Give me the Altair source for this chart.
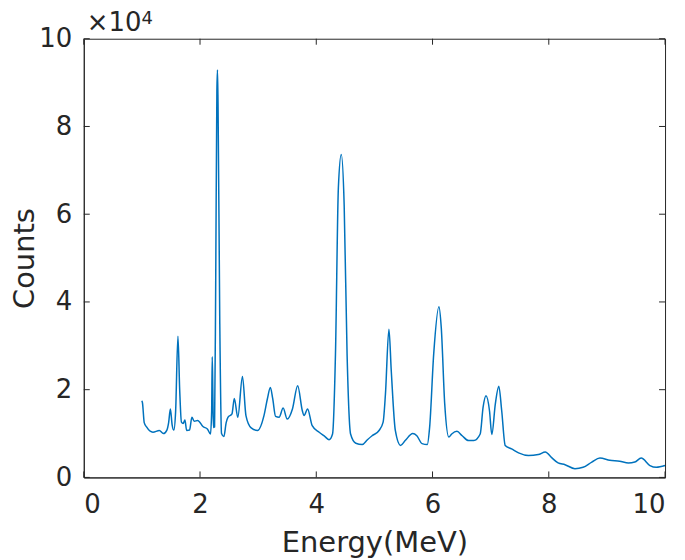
import altair as alt
import pandas as pd

# Spectrum (energy in MeV, counts)
energy = [1.00, 1.01, 1.04, 1.08, 1.19, 1.30, 1.37, 1.43, 1.46, 1.49, 1.52, 1.55, 1.58, 1.62, 1.65,
          1.68, 1.71, 1.74, 1.77, 1.82, 1.86, 1.90, 1.96, 2.05, 2.13, 2.18, 2.20, 2.21, 2.22, 2.23,
          2.25, 2.27, 2.29, 2.30, 2.31, 2.34, 2.37, 2.41, 2.45, 2.48, 2.55, 2.59, 2.65, 2.73, 2.79,
          2.88, 2.99, 3.10, 3.16, 3.21, 3.25, 3.30, 3.36, 3.43, 3.50, 3.59, 3.68, 3.76, 3.79, 3.85,
          3.93, 4.05, 4.15, 4.22, 4.28, 4.33, 4.38, 4.43, 4.48, 4.53, 4.59, 4.68, 4.79, 4.88, 4.96,
          5.08, 5.15, 5.19, 5.25, 5.29, 5.36, 5.45, 5.53, 5.66, 5.73, 5.82, 5.91, 5.95, 6.02, 6.11,
          6.15, 6.21, 6.28, 6.33, 6.42, 6.51, 6.62, 6.71, 6.82, 6.87, 6.92, 6.98, 7.02, 7.08, 7.14,
          7.19, 7.25, 7.36, 7.48, 7.65, 7.82, 7.94, 8.05, 8.16, 8.28, 8.45, 8.59, 8.74, 8.88, 9.05,
          9.22, 9.37, 9.48, 9.59, 9.74, 9.85, 10.00]
counts = [17500, 17000, 12500, 11500, 10300, 10700, 10000, 10800, 12500, 15600, 12000, 10800, 15000, 32200, 20000,
          12600, 12300, 13100, 10700, 10800, 13700, 12800, 13000, 11600, 11000, 9900, 15000, 27500, 20000, 11400,
          11500, 45000, 88000, 92900, 85000, 35000, 10000, 9300, 12500, 13700, 14500, 18000, 13700, 23000, 14100,
          11300, 10700, 14100, 18000, 20500, 18000, 13900, 13700, 15800, 13300, 15600, 20900, 15200, 14100, 15600,
          11800, 10300, 9300, 8600, 9900, 28000, 66000, 73600, 62000, 28000, 9900, 7800, 7500, 8600, 9500,
          10700, 12600, 19000, 33800, 24300, 10700, 7300, 8400, 10000, 9500, 7700, 7500, 11400, 28100, 38900,
          34200, 16700, 9200, 9900, 10500, 9500, 8400, 8400, 9900, 16000, 18600, 15200, 9800, 16700, 20800,
          15200, 7300, 6500, 5600, 5000, 5200, 5800, 4500, 3300, 2900, 2000, 2300, 3500, 4400, 3900,
          3700, 3300, 3500, 4400, 2700, 2300, 2700]

x_ticks = [0, 2, 4, 6, 8, 10]
y_ticks = [0, 20000, 40000, 60000, 80000, 100000]

W, H = 583, 440
AX = "#262626"
FONT = "DejaVu Sans"

df = pd.DataFrame({"energy": energy, "counts": counts})
xt = pd.DataFrame({"energy": x_ticks})
yt = pd.DataFrame({"counts": y_ticks})

xscale = alt.Scale(domain=[0, 10], nice=False, zero=False)
yscale = alt.Scale(domain=[0, 100000], nice=False)

xaxis = alt.Axis(values=x_ticks, title="Energy(MeV)", labelPadding=14,
                 titleX=W / 2, titleY=74, titleAlign="center", titleBaseline="alphabetic")
yaxis = alt.Axis(values=y_ticks, labelExpr="datum.value / 10000", title="Counts",
                 labelPadding=12, titleX=-50, titleY=H / 2, titleAngle=270,
                 titleAlign="center", titleBaseline="alphabetic")

line = alt.Chart(df).mark_line(color="#0072BD", strokeWidth=1.5, clip=True,
                               interpolate="monotone").encode(
    x=alt.X("energy:Q", scale=xscale, axis=xaxis),
    y=alt.Y("counts:Q", scale=yscale, axis=yaxis),
)

tb = alt.Chart(xt).mark_rule(color=AX, strokeWidth=1).encode(
    x=alt.X("energy:Q", scale=xscale, axis=xaxis), y=alt.value(H), y2=alt.value(H - 6))
tt = alt.Chart(xt).mark_rule(color=AX, strokeWidth=1).encode(
    x=alt.X("energy:Q", scale=xscale, axis=xaxis), y=alt.value(0), y2=alt.value(6))
tl = alt.Chart(yt).mark_rule(color=AX, strokeWidth=1).encode(
    y=alt.Y("counts:Q", scale=yscale, axis=yaxis), x=alt.value(0), x2=alt.value(6))
tr = alt.Chart(yt).mark_rule(color=AX, strokeWidth=1).encode(
    y=alt.Y("counts:Q", scale=yscale, axis=yaxis), x=alt.value(W), x2=alt.value(W - 6))

exp_base = alt.Chart(pd.DataFrame({"t": ["×10"]})).mark_text(
    align="left", baseline="alphabetic", font=FONT, fontSize=26, color=AX).encode(
    x=alt.value(3), y=alt.value(-8), text="t:N")
exp_pow = alt.Chart(pd.DataFrame({"t": ["4"]})).mark_text(
    align="left", baseline="alphabetic", font=FONT, fontSize=18, color=AX).encode(
    x=alt.value(58), y=alt.value(-15), text="t:N")

chart = alt.layer(line, tb, tt, tl, tr, exp_base, exp_pow).properties(
    width=W, height=H,
    autosize=alt.AutoSizeParams(type="none"),
    padding={"left": 76, "top": 30, "right": 12, "bottom": 82},
    background="white",
).configure_axis(
    grid=False, ticks=False, domain=True, domainColor=AX, domainWidth=1,
    labelFont=FONT, labelFontSize=26, labelColor=AX,
    titleFont=FONT, titleFontSize=29, titleFontWeight="normal", titleColor=AX,
).configure_view(stroke=AX, strokeWidth=1)

chart.save("out.html", embed_options={"renderer": "svg", "actions": False})
